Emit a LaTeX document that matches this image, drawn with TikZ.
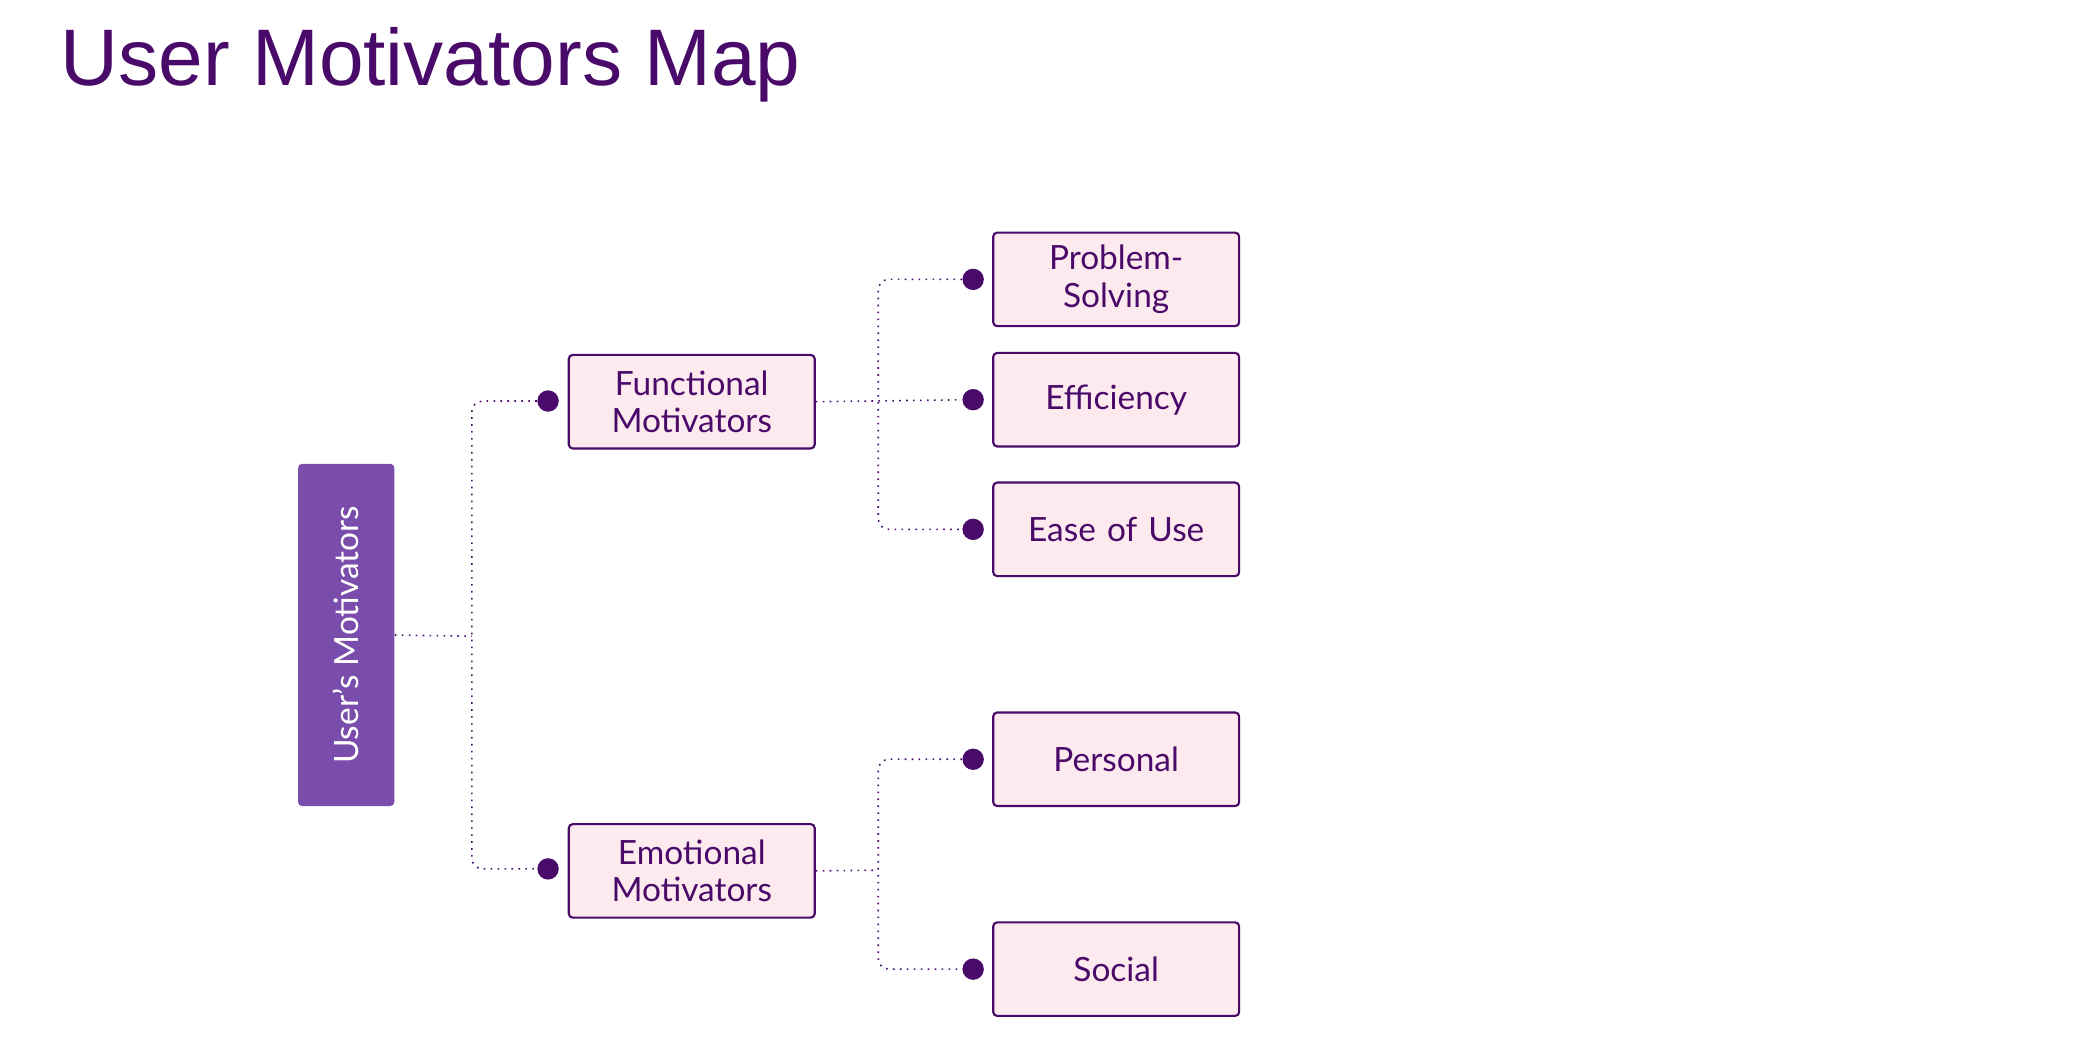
\documentclass[tikz,border=0pt]{standalone}
\usepackage{fontspec}
\setmainfont{Lato}
\newfontfamily\titlefont{Liberation Sans}
\usetikzlibrary{positioning}
\definecolor{ink}{HTML}{4A0A6A}
\definecolor{rootfill}{HTML}{7A4CAB}
\definecolor{leaffill}{HTML}{FDEAEE}
\tikzset{every picture/.style={
  x=0.5pt, y=-0.5pt
  }
}

\begin{document}
\begin{tikzpicture}[
    root/.style={               % The vertical root box.
      rectangle,
      rounded corners=1.5pt,
      fill=rootfill,
      text=white,
      minimum width=128pt,
      minimum height=36pt,
      font=\fontsize{12.5}{14}\selectfont,
      rotate=90
    },
    cat/.style={                % Category and leaf boxes.
      rectangle,
      draw=ink,
      line width=0.8pt,
      rounded corners=1.5pt,
      fill=leaffill,
      text=ink,
      align=center,
      text width=88pt,
      minimum width=92pt,
      minimum height=35pt,
      inner sep=1pt,
      font=\fontsize{12.5}{14}\selectfont
    },
    link/.style={               % Dotted connectors.
      draw=ink,
      line width=0.6pt,
      dotted,
      rounded corners=4pt
    },
    dot/.style={                % End points of the connectors.
      circle,
      fill=ink,
      inner sep=0pt,
      minimum size=8pt
    }]
    \useasboundingbox (0,0) rectangle (1568,792);

    % Title.
    \node[anchor=base west,text=ink,font=\titlefont\fontsize{30}{34}\selectfont,inner sep=0pt]
      (title) at (45,64) {User Motivators Map};

    % Boxes.
    \node[root] (users) at (259,475) {User’s Motivators};
    \node[cat] (func) at (517.5,300.5) {Functional\\Motivators};
    \node[cat] (emo)  at (517.5,651.5) {Emotional\\Motivators};
    \node[cat] (prob) at (835,209) {Problem-\\Solving};
    \node[cat] (eff)  at (835,299) {Efficiency};
    \node[cat] (ease) at (835,396) {Ease of Use};
    \node[cat] (pers) at (835,568) {Personal};
    \node[cat] (soc)  at (835,725) {Social};

    % Connector end points.
    \node[dot] (dfunc) at (410,300) {};
    \node[dot] (demo)  at (410,650) {};
    \node[dot] (dprob) at (728,209) {};
    \node[dot] (deff)  at (728,299) {};
    \node[dot] (dease) at (728,396) {};
    \node[dot] (dpers) at (728,568) {};
    \node[dot] (dsoc)  at (728,725) {};

    % Connectors.
    \draw[link] (users.south) -- (353,476);
    \draw[link] (dfunc) -| (353,476) |- (demo);
    \draw[link] (func.east) -- (deff);
    \draw[link] (dprob) -| (657,300) |- (dease);
    \draw[link] (emo.east) -- (657,651);
    \draw[link] (dpers) -| (657,651) |- (dsoc);
  \end{tikzpicture}
\end{document}
